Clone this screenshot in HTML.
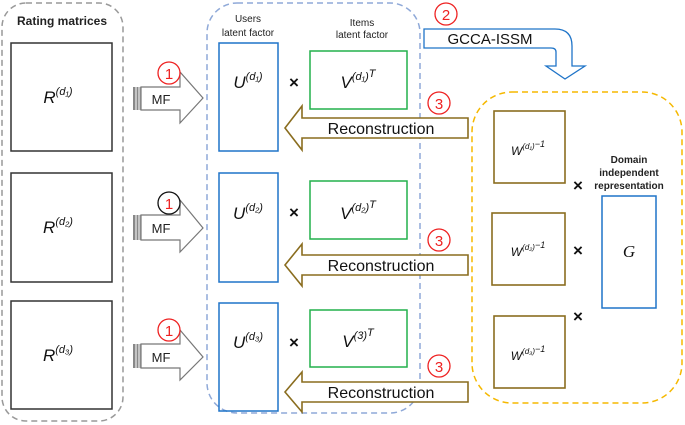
<!DOCTYPE html>
<html><head><meta charset="utf-8"><style>
body{margin:0;background:#fff}
svg{display:block}
text{font-family:"Liberation Sans",sans-serif}
.m{font-family:"Liberation Serif",serif;font-style:italic}
</style></head><body>
<svg width="685" height="425" viewBox="0 0 685 425" xmlns="http://www.w3.org/2000/svg">
<!-- gray group -->
<rect x="2" y="3" width="121" height="418" rx="24" fill="none" stroke="#999" stroke-width="1.5" stroke-dasharray="6,4"/>
<text x="62" y="25" font-size="12" font-weight="bold" text-anchor="middle" fill="#222">Rating matrices</text>
<g fill="none" stroke="#333" stroke-width="1.5">
<rect x="11" y="43" width="101" height="108"/>
<rect x="11" y="173" width="101" height="109"/>
<rect x="11" y="301" width="101" height="108"/>
</g>
<g class="m" font-size="17" fill="#111" text-anchor="middle">
<text x="58" y="103">R<tspan font-size="11" dy="-8">(d₁)</tspan></text>
<text x="58" y="233">R<tspan font-size="11" dy="-8">(d₂)</tspan></text>
<text x="58" y="361">R<tspan font-size="11" dy="-8">(d₃)</tspan></text>
</g>
<!-- MF arrows -->
<g fill="#fff" stroke="#777" stroke-width="1.2">
<path d="M141,87 H180 V72 L203,98 L180,123 V110 H141 Z"/>
<path d="M141,215 H180 V200 L203,228 L180,252 V240 H141 Z"/>
<path d="M141,344 H180 V330 L203,357 L180,380 V368 H141 Z"/>
</g>
<g fill="#888">
<rect x="133" y="87" width="8" height="23"/><rect x="133" y="215" width="8" height="25"/><rect x="133" y="344" width="8" height="24"/>
</g>
<g stroke="#fff" stroke-width="1"><line x1="136" y1="87" x2="136" y2="110"/><line x1="139" y1="87" x2="139" y2="110"/><line x1="136" y1="215" x2="136" y2="240"/><line x1="139" y1="215" x2="139" y2="240"/><line x1="136" y1="344" x2="136" y2="368"/><line x1="139" y1="344" x2="139" y2="368"/></g>
<g font-size="13" fill="#222" text-anchor="middle"><text x="161" y="104">MF</text><text x="161" y="233">MF</text><text x="161" y="362">MF</text></g>
<g fill="#fff" stroke-width="1.3">
<circle cx="169" cy="73" r="11" stroke="#e22"/><circle cx="169" cy="203" r="11" stroke="#111"/><circle cx="169" cy="330" r="11" stroke="#e22"/>
</g>
<g font-size="15" fill="#e22" text-anchor="middle"><text x="169" y="79">1</text><text x="169" y="209">1</text><text x="169" y="336">1</text></g>
<!-- blue group -->
<rect x="207" y="3" width="213" height="410" rx="30" fill="none" stroke="#8fa9d8" stroke-width="1.5" stroke-dasharray="6,4"/>
<g font-size="10" fill="#222" text-anchor="middle"><text x="248" y="22">Users</text><text x="248" y="36">latent factor</text><text x="362" y="26">Items</text><text x="362" y="38">latent factor</text></g>
<g fill="none" stroke="#1f74c8" stroke-width="1.5">
<rect x="219" y="43" width="59" height="108"/><rect x="219" y="173" width="59" height="109"/><rect x="219" y="303" width="59" height="108"/>
</g>
<g fill="none" stroke="#22b14c" stroke-width="1.5">
<rect x="310" y="51" width="97" height="58"/><rect x="310" y="181" width="97" height="58"/><rect x="310" y="310" width="97" height="57"/>
</g>
<g class="m" font-size="17" fill="#111" text-anchor="middle">
<text x="248" y="88">U<tspan font-size="11" dy="-8">(d₁)</tspan></text>
<text x="248" y="219">U<tspan font-size="11" dy="-8">(d₂)</tspan></text>
<text x="248" y="348">U<tspan font-size="11" dy="-8">(d₃)</tspan></text>
<text x="358" y="88">V<tspan font-size="11" dy="-8">(d₁)</tspan><tspan font-size="11" dy="-3">T</tspan></text>
<text x="358" y="219">V<tspan font-size="11" dy="-8">(d₂)</tspan><tspan font-size="11" dy="-3">T</tspan></text>
<text x="358" y="347">V<tspan font-size="11" dy="-8">(3)</tspan><tspan font-size="11" dy="-3">T</tspan></text>
</g>
<g font-size="17" font-weight="bold" fill="#111" text-anchor="middle">
<text x="294" y="88">×</text><text x="294" y="218">×</text><text x="294" y="348">×</text>
<text x="578" y="191">×</text><text x="578" y="256">×</text><text x="578" y="322">×</text>
</g>
<!-- reconstruction arrows -->
<g fill="#fff" stroke="#8a6d1f" stroke-width="1.6">
<path d="M468,118 V138 H302 V150 L285,128 L302,106 V118 Z"/>
<path d="M468,255 V275 H302 V286 L285,265 L302,244 V255 Z"/>
<path d="M468,382 V402 H302 V412 L285,392 L302,372 V382 Z"/>
</g>
<g font-size="16" fill="#111" text-anchor="middle"><text x="381" y="134">Reconstruction</text><text x="381" y="271">Reconstruction</text><text x="381" y="398">Reconstruction</text></g>
<g fill="#fff" stroke="#e22" stroke-width="1.3">
<circle cx="439" cy="103" r="11"/><circle cx="439" cy="240" r="11"/><circle cx="439" cy="366" r="11"/><circle cx="446" cy="14" r="11"/>
</g>
<g font-size="15" fill="#e22" text-anchor="middle"><text x="439" y="109">3</text><text x="439" y="246">3</text><text x="439" y="372">3</text><text x="446" y="20">2</text></g>
<!-- GCCA arrow -->
<path d="M424,29 H555 Q572,29 572,46 V66 H585 L565,79 L546,66 H556 V52 Q556,48 551,48 H424 Z" fill="#fff" stroke="#1f74c8" stroke-width="1.3"/>
<text x="490" y="44" font-size="15" fill="#111" text-anchor="middle">GCCA-ISSM</text>
<!-- yellow group -->
<rect x="472" y="92" width="210" height="311" rx="40" fill="none" stroke="#f5b800" stroke-width="1.5" stroke-dasharray="6,4"/>
<g fill="none" stroke="#8a6d1f" stroke-width="1.6">
<rect x="494" y="111" width="71" height="72"/><rect x="492" y="213" width="73" height="72"/><rect x="494" y="316" width="71" height="72"/>
</g>
<g class="m" font-size="12" fill="#111" text-anchor="middle">
<text x="528" y="155">W<tspan font-size="8" dy="-6">(d₁)</tspan><tspan font-size="9" dy="-2">−1</tspan></text>
<text x="528" y="256">W<tspan font-size="8" dy="-6">(d₂)</tspan><tspan font-size="9" dy="-2">−1</tspan></text>
<text x="528" y="360">W<tspan font-size="8" dy="-6">(d₃)</tspan><tspan font-size="9" dy="-2">−1</tspan></text>
</g>
<g font-size="10" font-weight="bold" fill="#222" text-anchor="middle"><text x="629" y="163">Domain</text><text x="629" y="176">independent</text><text x="629" y="189">representation</text></g>
<rect x="602" y="196" width="54" height="112" fill="none" stroke="#1f74c8" stroke-width="1.5"/>
<text x="629" y="257" class="m" font-size="17" fill="#111" text-anchor="middle">G</text>
</svg>
</body></html>
